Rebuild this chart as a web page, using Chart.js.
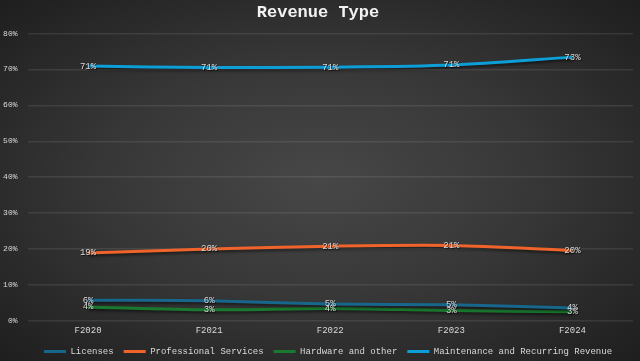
<!DOCTYPE html>
<html>
<head>
<meta charset="utf-8">
<script src="https://cdn.jsdelivr.net/npm/chart.js@4"></script>
<style>
  html, body { margin: 0; padding: 0; }
  body { width: 640px; height: 361px; background: radial-gradient(ellipse at 50% 50%, #474747 0%, #383838 45%, #1e1e1e 100%); }
  #wrap { width: 640px; height: 361px; position: relative; }
</style>
</head>
<body>
<div id="wrap"><canvas id="revChart"></canvas></div>
<script>
const years = ["F2020", "F2021", "F2022", "F2023", "F2024"]
const licenses = [5.8, 5.6, 4.7, 4.5, 3.6]
const professional = [18.9, 20.0, 20.8, 21.0, 19.6]
const hardware = [3.9, 3.1, 3.5, 2.9, 2.6]
const maintenance = [70.9, 70.5, 70.6, 71.2, 73.4]
const yTicks = [0, 10, 20, 30, 40, 50, 60, 70, 80]

const monoFont = "'Liberation Mono', 'DejaVu Sans Mono', monospace"

// small plugin: value labels centred on each point
const pointLabels = {
    id: 'pointLabels',
    afterDatasetsDraw(chart) {
        const ctx = chart.ctx
        ctx.save()
        ctx.font = "9px " + monoFont
        ctx.textAlign = 'center'
        ctx.textBaseline = 'middle'
        chart.data.datasets.forEach((ds, i) => {
            const meta = chart.getDatasetMeta(i)
            meta.data.forEach((pt, j) => {
                const txt = Math.round(ds.data[j]) + '%'
                ctx.fillStyle = 'rgba(0,0,0,0.6)'
                ctx.fillText(txt, pt.x + 1, pt.y + 1)
                ctx.fillStyle = '#d9d9d9'
                ctx.fillText(txt, pt.x, pt.y)
            })
        })
        ctx.restore()
    }
}

// line shadows
const lineShadow = {
    id: 'lineShadow',
    beforeDatasetsDraw(chart) {
        chart.ctx.save()
        chart.ctx.shadowColor = 'rgba(0,0,0,0.55)'
        chart.ctx.shadowBlur = 3
        chart.ctx.shadowOffsetX = 1
        chart.ctx.shadowOffsetY = 2
    },
    afterDatasetsDraw(chart) {
        chart.ctx.restore()
    }
}

// fixed legend height so it sits close to the bottom edge,
// and centre it under the plot area instead of the canvas
const legendHeight = {
    id: 'legendHeight',
    beforeInit(chart) {
        const origFit = chart.legend.fit
        chart.legend.fit = function () {
            origFit.bind(chart.legend)()
            this.height = 24
        }
    },
    afterLayout(chart) {
        chart.legend.left += 10
        chart.legend.right += 10
    }
}

function series(label, data, color) {
    return {
        label: label,
        data: data,
        borderColor: color,
        backgroundColor: color,
        borderWidth: 3,
        pointRadius: 0,
        pointHoverRadius: 0,
        tension: 0.3,
        fill: false
    }
}

const data = {
    labels: years,
    datasets: [
        series('Licenses', licenses, '#17678c'),
        series('Professional Services', professional, '#f0642c'),
        series('Hardware and other', hardware, '#19792f'),
        series('Maintenance and Recurring Revenue', maintenance, '#0c9ed6')
    ]
}

const config = {
    type: 'line',
    data,
    options: {
        responsive: false,
        animation: false,
        layout: { padding: { left: 3, right: 7, top: 0, bottom: 0 } },
        plugins: {
            title: {
                display: true,
                text: 'Revenue Type',
                color: '#f2f2f2',
                font: { family: monoFont, size: 17, weight: 'bold' },
                padding: { top: 3, bottom: 10 }
            },
            legend: {
                position: 'bottom',
                labels: {
                    color: '#d9d9d9',
                    font: { family: monoFont, size: 9 },
                    usePointStyle: true,
                    pointStyle: 'line',
                    pointStyleWidth: 22,
                    boxWidth: 22,
                    padding: 10
                }
            },
            tooltip: { enabled: false }
        },
        scales: {
            x: {
                offset: true,
                grid: { display: false, drawTicks: false },
                border: { display: false },
                ticks: { color: '#d9d9d9', font: { family: monoFont, size: 9 }, padding: 4, maxRotation: 0 },
                afterFit(axis) {
                    axis.height = 16
                }
            },
            y: {
                min: 0,
                max: 80,
                afterBuildTicks(axis) {
                    axis.ticks = yTicks.map(v => ({ value: v }))
                },
                grid: { color: 'rgba(255,255,255,0.09)', lineWidth: 1.5, drawTicks: false },
                border: { display: false },
                ticks: {
                    color: '#d9d9d9',
                    font: { family: monoFont, size: 8 },
                    padding: 10,
                    callback: v => v + '%'
                },
                afterFit(axis) {
                    axis.width = 24.5
                }
            }
        }
    },
    plugins: [legendHeight, lineShadow, pointLabels]
}

const canvas = document.getElementById('revChart')
canvas.width = 640
canvas.height = 361
const myChart = new Chart(canvas, config)
</script>
</body>
</html>
